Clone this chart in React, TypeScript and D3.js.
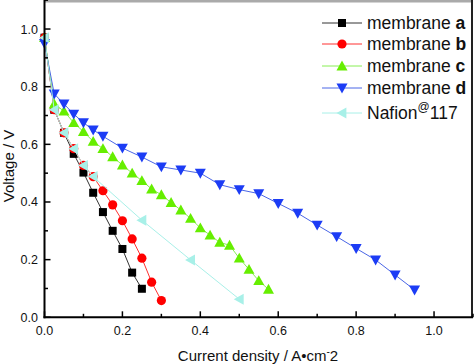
import React from "react";
import * as d3 from "d3";

const xA = [0, 0.025, 0.05, 0.075, 0.1, 0.125, 0.15, 0.175, 0.2, 0.225, 0.25];
const yA = [0.97, 0.72, 0.64, 0.567, 0.502, 0.432, 0.365, 0.3, 0.237, 0.155, 0.099];

const xB = [0, 0.025, 0.05, 0.075, 0.1, 0.125, 0.15, 0.175, 0.2, 0.225, 0.25, 0.275, 0.3];
const yB = [0.97, 0.72, 0.64, 0.585, 0.527, 0.488, 0.439, 0.39, 0.335, 0.272, 0.205, 0.122, 0.058];

const xC = [0, 0.025, 0.05, 0.075, 0.1, 0.125, 0.15, 0.175, 0.2, 0.225, 0.25, 0.275, 0.3, 0.325, 0.35, 0.375, 0.4, 0.425, 0.45, 0.475, 0.5, 0.525, 0.55, 0.575];
const yC = [0.97, 0.74, 0.715, 0.675, 0.644, 0.61, 0.585, 0.557, 0.528, 0.5, 0.474, 0.445, 0.425, 0.398, 0.372, 0.343, 0.31, 0.285, 0.26, 0.25, 0.205, 0.166, 0.127, 0.097];

const xD = [0, 0.025, 0.05, 0.075, 0.1, 0.125, 0.15, 0.2, 0.25, 0.3, 0.35, 0.4, 0.45, 0.5, 0.55, 0.6, 0.65, 0.7, 0.75, 0.8, 0.85, 0.9, 0.95];
const yD = [0.95, 0.775, 0.74, 0.705, 0.675, 0.65, 0.628, 0.587, 0.556, 0.522, 0.511, 0.5, 0.46, 0.443, 0.429, 0.395, 0.361, 0.32, 0.28, 0.239, 0.199, 0.147, 0.095];

const xN = [0, 0.025, 0.05, 0.075, 0.1, 0.125, 0.25, 0.375, 0.5];
const yN = [0.97, 0.72, 0.64, 0.585, 0.527, 0.488, 0.337, 0.199, 0.063];

const seriesNames = ["membrane ", "membrane ", "membrane ", "membrane ", "Nafion"];
const seriesBold = ["a", "b", "c", "d", ""];
const xTicks = [0, 0.2, 0.4, 0.6, 0.8, 1.0];
const yTicks = [0, 0.2, 0.4, 0.6, 0.8, 1.0];

const W = 474, H = 364;
const x = d3.scaleLinear().domain([0, 1.1]).range([44.5, 473]);
const y = d3.scaleLinear().domain([0, 1.1]).range([317.3, 0.2]);

type Kind = "square" | "circle" | "up" | "down" | "left";
const series = [
  { xs: xA, ys: yA, color: "#000000", line: "#333333", kind: "square" as Kind },
  { xs: xB, ys: yB, color: "#ff0000", line: "#ff3030", kind: "circle" as Kind },
  { xs: xC, ys: yC, color: "#66ee00", line: "#88ee55", kind: "up" as Kind },
  { xs: xD, ys: yD, color: "#1c3cf5", line: "#4a66e6", kind: "down" as Kind },
  { xs: xN, ys: yN, color: "#a8f0e8", line: "#a8f0e8", kind: "left" as Kind },
];

function Marker({ cx, cy, kind, color }: { cx: number; cy: number; kind: Kind; color: string }) {
  if (kind === "square") return <rect x={cx - 4} y={cy - 4} width={8} height={8} fill={color} />;
  if (kind === "circle") return <circle cx={cx} cy={cy} r={4.6} fill={color} />;
  const s = 5.5;
  let pts = "";
  if (kind === "up") pts = `${cx},${cy - s} ${cx + s},${cy + s * 0.8} ${cx - s},${cy + s * 0.8}`;
  if (kind === "down") pts = `${cx},${cy + s} ${cx + s},${cy - s * 0.8} ${cx - s},${cy - s * 0.8}`;
  if (kind === "left") pts = `${cx - s},${cy} ${cx + s * 0.8},${cy - s} ${cx + s * 0.8},${cy + s}`;
  return <polygon points={pts} fill={color} />;
}

export default function App() {
  const line = d3.line<[number, number]>().x((d) => x(d[0])).y((d) => y(d[1]));
  const minorX = d3.range(0, 1.11, 0.1);
  const minorY = d3.range(0, 1.11, 0.1);
  const legY = [23, 44, 66, 88, 113];
  return (
    <svg width={W} height={H} style={{ position: "fixed", left: 0, top: 0, background: "#fff" }} fontFamily="Arial, Liberation Sans, sans-serif">
      <rect x={0} y={0} width={W} height={H} fill="#fff" />
      {/* data */}
      {series.map((s, i) => {
        const pts = s.xs.map((v, j) => [v, s.ys[j]] as [number, number]);
        return (
          <g key={i}>
            <path d={line(pts) || ""} fill="none" stroke={s.line} strokeWidth={1} />
            {pts.map((p, j) => (
              <Marker key={j} cx={x(p[0])} cy={y(p[1])} kind={s.kind} color={s.color} />
            ))}
          </g>
        );
      })}
      {/* frame */}
      <line x1={44.5} x2={473} y1={1.2} y2={1.2} stroke="#aaaaaa" strokeWidth={2.5} />
      <line x1={472} x2={472} y1={0} y2={318} stroke="#222" strokeWidth={2} />
      <line x1={44.5} x2={44.5} y1={0} y2={318.3} stroke="#000" strokeWidth={2} />
      <line x1={43.5} x2={473} y1={317.3} y2={317.3} stroke="#000" strokeWidth={2} />
      {/* ticks */}
      {minorX.map((t, i) => {
        const major = Math.round(t * 10) % 2 === 0;
        return <line key={"mx" + i} x1={x(t)} x2={x(t)} y1={317.3} y2={317.3 - (major ? 6 : 3.5)} stroke="#000" strokeWidth={1.5} />;
      })}
      {minorY.map((t, i) => {
        const major = Math.round(t * 10) % 2 === 0;
        return <line key={"my" + i} x1={44.5} x2={44.5 + (major ? 6 : 3.5)} y1={y(t)} y2={y(t)} stroke="#000" strokeWidth={1.5} />;
      })}
      {xTicks.map((t, i) => (
        <text key={"xt" + i} x={x(t)} y={335} fontSize={12.5} textAnchor="middle" fill="#111">{t.toFixed(1)}</text>
      ))}
      {yTicks.map((t, i) => (
        <text key={"yt" + i} x={38} y={y(t) + 4.5} fontSize={12.5} textAnchor="end" fill="#111">{t.toFixed(1)}</text>
      ))}
      <text x={258} y={360.5} fontSize={15} textAnchor="middle" fill="#111">
        Current density / A•cm<tspan dy={-6} fontSize={10}>-</tspan><tspan dy={6}>2</tspan>
      </text>
      <text transform="translate(14,166) rotate(-90)" fontSize={15} textAnchor="middle" fill="#111">Voltage / V</text>
      {/* legend */}
      {series.map((s, i) => (
        <g key={"lg" + i}>
          <line x1={322} x2={362} y1={legY[i]} y2={legY[i]} stroke={s.line} strokeWidth={1} />
          <Marker cx={342} cy={legY[i]} kind={s.kind} color={s.color} />
          <text x={367} y={legY[i] + 6} fontSize={17.5} fill="#111">
            {seriesNames[i]}
            {seriesBold[i] ? <tspan fontWeight="bold">{seriesBold[i]}</tspan> : null}
            {i === 4 ? (
              <>
                <tspan dy={-8} fontSize={12}>@</tspan>
                <tspan dy={8}>117</tspan>
              </>
            ) : null}
          </text>
        </g>
      ))}
    </svg>
  );
}
